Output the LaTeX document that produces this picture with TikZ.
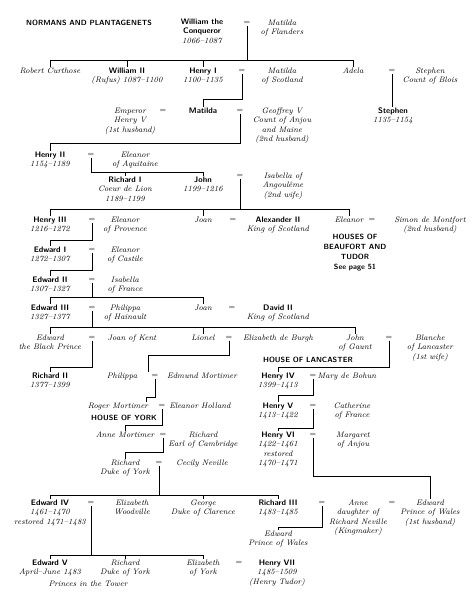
\documentclass[tikz,border=0pt]{standalone}
\usepackage{fontspec}
\newcommand\dt{\normalfont\itshape}

\begin{document}
\begin{tikzpicture}[x=1pt, y=-1pt,
  lbl/.style={anchor=north, yshift=4.5pt, inner sep=1pt, align=center},
  king/.style={lbl, font=\fontsize{8}{9.5}\selectfont\sffamily\bfseries},
  spouse/.style={lbl, font=\fontsize{8}{9.5}\selectfont\itshape},
  house/.style={lbl, font=\fontsize{7.5}{10}\selectfont\sffamily\bfseries},
  eq/.style={inner sep=1pt, font=\fontsize{8}{9.5}\selectfont},
  link/.style={draw, line width=0.9pt}
]
  \useasboundingbox (0,0) rectangle (472,606);

  % Normans
  \node[house] (title) at (89, 23) {NORMANS AND PLANTAGENETS};
  \node[king] (wconq) at (202, 22) {William the\\Conqueror\\\dt 1066--1087};
  \node[eq] (e1) at (247, 23) {=};
  \node[spouse] (mflan) at (282, 23) {Matilda\\of Flanders};

  \node[spouse] (robert) at (50, 71) {Robert Curthose};
  \node[king] (will2) at (127, 71) {William II\\\dt (Rufus) 1087--1100};
  \node[king] (henry1) at (203, 71) {Henry I\\\dt 1100--1135};
  \node[eq] (e2) at (242, 71) {=};
  \node[spouse] (mscot) at (282, 71) {Matilda\\of Scotland};
  \node[spouse] (adela) at (353, 71) {Adela};
  \node[eq] (e3) at (392, 71) {=};
  \node[spouse] (sblois) at (430, 71) {Stephen\\Count of Blois};

  \node[spouse] (hv) at (130, 111) {Emperor\\Henry V\\(1st husband)};
  \node[eq] (e4) at (163, 111) {=};
  \node[king] (matilda) at (203, 111) {Matilda};
  \node[eq] (e5) at (240, 111) {=};
  \node[spouse] (geoff) at (282, 111) {Geoffrey V\\Count of Anjou\\and Maine\\(2nd husband)};
  \node[king] (stephen) at (393, 111) {Stephen\\\dt 1135--1154};

  % Plantagenets
  \node[king] (henry2) at (50, 155) {Henry II\\\dt 1154--1189};
  \node[eq] (e6) at (91, 155) {=};
  \node[spouse] (eaqu) at (135, 155) {Eleanor\\of Aquitaine};

  \node[king] (rich1) at (125, 180) {Richard I\\\dt Coeur de Lion\\\dt 1189--1199};
  \node[king] (john) at (203, 180) {John\\\dt 1199--1216};
  \node[eq] (e7) at (240, 176) {=};
  \node[spouse] (isang) at (283, 176) {Isabella of\\Angoul\^eme\\(2nd wife)};

  \node[king] (henry3) at (50, 220) {Henry III\\\dt 1216--1272};
  \node[eq] (e8) at (92, 220) {=};
  \node[spouse] (eprov) at (125, 220) {Eleanor\\of Provence};
  \node[spouse] (joan1) at (203, 220) {Joan};
  \node[eq] (e9) at (233, 220) {=};
  \node[king] (alex) at (278, 220) {Alexander II\\\dt King of Scotland};
  \node[spouse] (elean) at (349, 220) {Eleanor};
  \node[eq] (e10) at (372, 220) {=};
  \node[spouse] (simon) at (430, 220) {Simon de Montfort\\(2nd husband)};

  \node[king] (edw1) at (50, 250) {Edward I\\\dt 1272--1307};
  \node[eq] (e11) at (92, 250) {=};
  \node[spouse] (ecast) at (125, 250) {Eleanor\\of Castile};

  \node[king] (edw2) at (50, 280) {Edward II\\\dt 1307--1327};
  \node[eq] (e12) at (92, 280) {=};
  \node[spouse] (isfr) at (125, 280) {Isabella\\of France};

  \node[house] (beauf) at (355, 237) {HOUSES OF\\BEAUFORT AND\\TUDOR\\See page 51};

  \node[king] (edw3) at (50, 308) {Edward III\\\dt 1327--1377};
  \node[eq] (e13) at (92, 308) {=};
  \node[spouse] (phain) at (125, 308) {Philippa\\of Hainault};
  \node[spouse] (joan2) at (203, 308) {Joan};
  \node[eq] (e14) at (232, 308) {=};
  \node[king] (david) at (278, 308) {David II\\\dt King of Scotland};

  \node[spouse] (blackp) at (50, 338) {Edward\\the Black Prince};
  \node[eq] (e15) at (92, 338) {=};
  \node[spouse] (jkent) at (132, 338) {Joan of Kent};
  \node[spouse] (lionel) at (203, 338) {Lionel};
  \node[eq] (e16) at (229, 338) {=};
  \node[spouse] (eburgh) at (278, 338) {Elizabeth de Burgh};
  \node[spouse] (gaunt) at (355, 338) {John\\of Gaunt};
  \node[eq] (e17) at (389, 338) {=};
  \node[spouse] (blanche) at (430, 338) {Blanche\\of Lancaster\\(1st wife)};

  % Lancaster and York
  \node[house] (lanc) at (308, 360) {HOUSE OF LANCASTER};
  \node[king] (rich2) at (50, 376) {Richard II\\\dt 1377--1399};
  \node[spouse] (phil) at (122, 376) {Philippa};
  \node[eq] (e18) at (155, 376) {=};
  \node[spouse] (emort) at (202, 376) {Edmund Mortimer};
  \node[king] (henry4) at (278, 376) {Henry IV\\\dt 1399--1413};
  \node[eq] (e19) at (313, 376) {=};
  \node[spouse] (mbohun) at (347, 376) {Mary de Bohun};

  \node[spouse] (roger) at (118, 406) {Roger Mortimer};
  \node[eq] (e20) at (162, 406) {=};
  \node[spouse] (eholl) at (200, 406) {Eleanor Holland};
  \node[king] (henry5) at (278, 406) {Henry V\\\dt 1413--1422};
  \node[eq] (e21) at (313, 406) {=};
  \node[spouse] (cathf) at (352, 406) {Catherine\\of France};

  \node[house] (york) at (124, 418) {HOUSE OF YORK};
  \node[spouse] (anne) at (125, 435) {Anne Mortimer};
  \node[eq] (e22) at (163, 435) {=};
  \node[spouse] (rcamb) at (203, 435) {Richard\\Earl of Cambridge};
  \node[king] (henry6) at (278, 435) {Henry VI\\\dt 1422--1461\\\dt restored\\\dt 1470--1471};
  \node[eq] (e23) at (313, 435) {=};
  \node[spouse] (manjou) at (353, 435) {Margaret\\of Anjou};

  \node[spouse] (ryork) at (125, 463) {Richard\\Duke of York};
  \node[eq] (e24) at (159, 463) {=};
  \node[spouse] (cnev) at (202, 463) {Cecily Neville};

  \node[king] (edw4) at (50, 503) {Edward IV\\\dt 1461--1470\\\dt restored 1471--1483};
  \node[eq] (e25) at (91, 503) {=};
  \node[spouse] (ewood) at (132, 503) {Elizabeth\\Woodville};
  \node[spouse] (george) at (203, 503) {George\\Duke of Clarence};
  \node[king] (rich3) at (278, 503) {Richard III\\\dt 1483--1485};
  \node[eq] (e26) at (322, 503) {=};
  \node[spouse] (anneN) at (358, 503) {Anne\\daughter of\\Richard Neville\\(Kingmaker)};
  \node[eq] (e27) at (392, 503) {=};
  \node[spouse] (eprince1) at (430, 503) {Edward\\Prince of Wales\\(1st husband)};
  \node[spouse] (eprince2) at (278, 534) {Edward\\Prince of Wales};

  \node[king] (edw5) at (50, 563) {Edward V\\\dt April--June 1483};
  \node[spouse] (ryork2) at (125, 563) {Richard\\Duke of York};
  \node[spouse] (princes) at (88, 584) {Princes in the Tower};
  \node[spouse] (eyork) at (203, 563) {Elizabeth\\of York};
  \node[eq] (e28) at (239, 563) {=};
  \node[king] (henry7) at (277, 563) {Henry VII\\\dt 1485--1509\\\dt (Henry Tudor)};

  % Bar levels
  \coordinate (b1) at (0, 60);
  \coordinate (b2) at (0, 99);
  \coordinate (b5) at (0, 143);
  \coordinate (b6) at (0, 172);
  \coordinate (b7) at (0, 209);
  \coordinate (b8) at (0, 240);
  \coordinate (b11) at (0, 270);
  \coordinate (b12) at (0, 297);
  \coordinate (b13) at (0, 327);
  \coordinate (b15) at (0, 367);
  \coordinate (b16) at (0, 355);
  \coordinate (b18) at (0, 397);
  \coordinate (b19) at (0, 395);
  \coordinate (b20) at (0, 425);
  \coordinate (b21) at (0, 428);
  \coordinate (b22) at (0, 452);
  \coordinate (b23) at (0, 476);
  \coordinate (b24) at (0, 495);
  \coordinate (b25) at (0, 555);
  \coordinate (b26) at (0, 527);
  % off-centre drops
  \coordinate (tphil) at (148, 0);
  \coordinate (troger) at (146, 0);

  % Descent lines
  \draw[link] (e1.south) -- (e1 |- b1);
  \draw[link] (robert |- b1) -- (adela |- b1);
  \foreach \c in {robert, will2, henry1, adela}
    \draw[link] (\c |- b1) -- (\c.north);

  \draw[link] (e3.south) -- (e3.south |- stephen.north);
  \draw[link] (e2.south) |- (matilda |- b2) -- (matilda.north);
  \draw[link] (e5.south) |- (henry2 |- b5) -- (henry2.north);

  \draw[link] (e6.south) |- (john |- b6) -- (john.north);
  \draw[link] (rich1 |- b6) -- (rich1.north);

  \draw[link] (e7.south) -- (e7 |- b7);
  \draw[link] (henry3 |- b7) -- (elean |- b7);
  \foreach \c in {henry3, joan1, elean}
    \draw[link] (\c |- b7) -- (\c.north);

  \draw[link] (e8.south) |- (edw1 |- b8) -- (edw1.north);
  \draw[link] (e11.south) |- (edw2 |- b11) -- (edw2.north);

  \draw[link] (e12.south) -- (e12 |- b12);
  \draw[link] (edw3 |- b12) -- (joan2 |- b12);
  \foreach \c in {edw3, joan2}
    \draw[link] (\c |- b12) -- (\c.north);

  \draw[link] (e13.south) -- (e13 |- b13);
  \draw[link] (blackp |- b13) -- (gaunt |- b13);
  \foreach \c in {blackp, lionel, gaunt}
    \draw[link] (\c |- b13) -- (\c.north);

  \draw[link] (e15.south) |- (rich2 |- b15) -- (rich2.north);
  \draw[link] (e16.south) |- (tphil |- b16) -- (tphil |- phil.north);
  \draw[link] (e17.south) |- (henry4 |- b15) -- (henry4.north);

  \draw[link] (e18.south) |- (troger |- b18) -- (troger |- roger.north);
  \draw[link] (e19.south) |- (henry5 |- b19) -- (henry5.north);
  \draw[link] (e20.south) |- (anne |- b20) -- (anne.north);
  \draw[link] (e21.south) |- (henry6 |- b21) -- (henry6.north);
  \draw[link] (e22.south) |- (ryork |- b22) -- (ryork.north);
  \draw[link] (e23.south) |- (eprince1 |- b23) -- (eprince1.north);

  \draw[link] (e24.south) -- (e24 |- b24);
  \draw[link] (edw4 |- b24) -- (rich3 |- b24);
  \foreach \c in {edw4, george, rich3}
    \draw[link] (\c |- b24) -- (\c.north);

  \draw[link] (e26.south) |- (eprince2 |- b26) -- (eprince2.north);

  \draw[link] (e25.south) -- (e25 |- b25);
  \draw[link] (edw5 |- b25) -- (eyork |- b25);
  \foreach \c in {edw5, ryork2, eyork}
    \draw[link] (\c |- b25) -- (\c.north);
\end{tikzpicture}
\end{document}
